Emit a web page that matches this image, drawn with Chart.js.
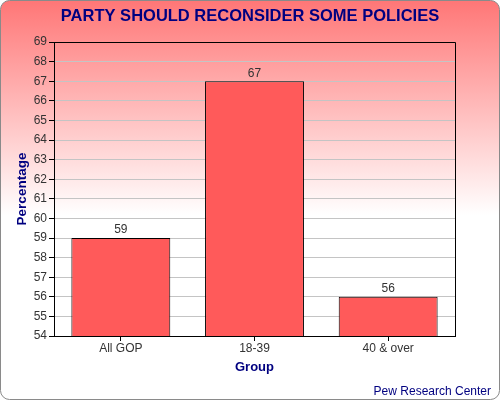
<!DOCTYPE html>
<html>
<head>
<meta charset="utf-8">
<script src="https://cdn.jsdelivr.net/npm/chart.js@4/dist/chart.umd.min.js"></script>
<style>
  html, body { margin: 0; padding: 0; background: #fff; }
  #box { width: 500px; height: 400px; }
</style>
</head>
<body>
<div id="box"><canvas id="grafico" width="500" height="400"></canvas></div>
<script>
const grupos = ['All GOP', '18-39', '40 & over'];
const porcentajes = [59, 67, 56];
const yMin = 54;
const yMax = 69;

const fuente = '"Liberation Sans", Arial, sans-serif';
const azul = '#000080';

// fondo degradado y borde redondeado
const fondo = {
  id: 'fondo',
  beforeDraw(chart) {
    const ctx = chart.ctx;
    ctx.save();
    const g = ctx.createLinearGradient(0, 0, 0, 215);
    g.addColorStop(0, '#ff7676');
    g.addColorStop(1, '#ffffff');
    ctx.beginPath();
    ctx.roundRect(0.5, 0.5, 499, 399, 9);
    ctx.fillStyle = g;
    ctx.fill();
    ctx.strokeStyle = '#8a8a8a';
    ctx.lineWidth = 1;
    ctx.stroke();
    ctx.restore();
  }
};

// titulo, marco del area, etiquetas de valores y fuente
const extras = {
  id: 'extras',
  afterDatasetsDraw(chart) {
    const ctx = chart.ctx;
    const a = chart.chartArea;
    ctx.save();
    ctx.strokeStyle = '#000';
    ctx.lineWidth = 1;
    ctx.beginPath();
    ctx.moveTo(a.left, a.top + 0.5);
    ctx.lineTo(a.right + 0.5, a.top + 0.5);
    ctx.lineTo(a.right + 0.5, a.bottom);
    ctx.stroke();

    ctx.font = 'bold 16.5px ' + fuente;
    ctx.fillStyle = azul;
    ctx.textAlign = 'center';
    ctx.textBaseline = 'middle';
    ctx.fillText('PARTY SHOULD RECONSIDER SOME POLICIES', 250, 16);

    ctx.font = '12px ' + fuente;
    ctx.fillStyle = '#333';
    ctx.textBaseline = 'bottom';
    chart.getDatasetMeta(0).data.forEach((bar, i) => {
      ctx.fillText(String(porcentajes[i]), bar.x, bar.y - 2);
    });

    ctx.fillStyle = azul;
    ctx.textAlign = 'right';
    ctx.textBaseline = 'middle';
    ctx.fillText('Pew Research Center', 491, 392);
    ctx.restore();
  }
};

new Chart(document.getElementById('grafico'), {
  type: 'bar',
  data: {
    labels: grupos,
    datasets: [{
      data: porcentajes,
      backgroundColor: '#ff5a5a',
      borderColor: '#000',
      borderWidth: 1,
      borderSkipped: false,
      barPercentage: 0.74,
      categoryPercentage: 1
    }]
  },
  options: {
    responsive: false,
    animation: false,
    devicePixelRatio: 1,
    layout: { padding: { left: 0, right: 45, top: 42, bottom: 0 } },
    plugins: {
      legend: { display: false },
      tooltip: { enabled: false },
      title: { display: false }
    },
    scales: {
      x: {
        afterFit(s) { s.height = 64; },
        grid: {
          display: true,
          drawOnChartArea: false,
          offset: false,
          tickLength: 5,
          tickColor: '#000'
        },
        border: { display: true, color: '#000' },
        ticks: { color: '#333', padding: 0, font: { family: fuente, size: 12 } },
        title: {
          display: true,
          text: 'Group',
          color: azul,
          font: { family: fuente, size: 13, weight: 'bold' },
          padding: { top: 0, bottom: 25 }
        }
      },
      y: {
        min: yMin,
        max: yMax,
        afterFit(s) { s.width = 54; },
        ticks: { stepSize: 1, color: '#333', padding: 2, font: { family: fuente, size: 12 } },
        grid: { color: '#c4c4c4', tickColor: '#000', tickLength: 5 },
        border: { display: true, color: '#000' },
        title: {
          display: true,
          text: 'Percentage',
          color: azul,
          font: { family: fuente, size: 13.5, weight: 'bold' },
          padding: { top: 14, bottom: 0 }
        }
      }
    }
  },
  plugins: [fondo, extras]
});
</script>
</body>
</html>
